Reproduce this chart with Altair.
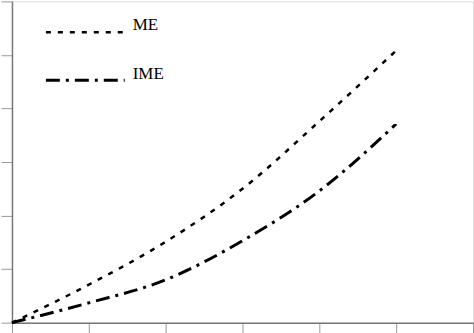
import altair as alt
import pandas as pd

x_vals = [0, 1, 2, 3, 4, 5]
me_vals = [0.0, 0.71, 1.51, 2.50, 3.76, 5.08]
ime_vals = [0.0, 0.37, 0.80, 1.53, 2.46, 3.71]
series_names = ["ME", "IME"]
tick_vals = [0, 1, 2, 3, 4, 5, 6]

df = pd.DataFrame({
    "x": x_vals * 2,
    "y": me_vals + ime_vals,
    "series": [series_names[0]] * len(x_vals) + [series_names[1]] * len(x_vals),
})

dash_scale = alt.Scale(domain=series_names, range=[[5, 7], [14, 6, 3, 6]])
width_scale = alt.Scale(domain=series_names, range=[2.5, 3])

x_enc = alt.X("x:Q", scale=alt.Scale(domain=[0, 6], nice=False),
              axis=alt.Axis(values=tick_vals, labels=False, title=None, grid=False,
                            tickSize=11, domainColor="#777", tickColor="#999",
                            domainWidth=1.5, tickWidth=1))
y_enc = alt.Y("y:Q", scale=alt.Scale(domain=[0, 6], nice=False),
              axis=alt.Axis(values=tick_vals, labels=False, title=None, grid=False,
                            tickSize=11, domainColor="#777", tickColor="#999",
                            domainWidth=1.5, tickWidth=1))

lines = alt.Chart(df).mark_line(color="black", interpolate="monotone").encode(
    x=x_enc,
    y=y_enc,
    strokeDash=alt.StrokeDash("series:N", scale=dash_scale, legend=None),
    strokeWidth=alt.StrokeWidth("series:N", scale=width_scale, legend=None),
    detail="series:N",
)

leg_df = pd.DataFrame({"series": series_names})

def legend_item(name, ly, ty, x2):
    sub = alt.Chart(leg_df).transform_filter(alt.datum.series == name)
    rule = sub.mark_rule(color="black").encode(
        x=alt.value(34), x2=alt.value(x2), y=alt.value(ly),
        strokeDash=alt.StrokeDash("series:N", scale=dash_scale, legend=None),
        strokeWidth=alt.StrokeWidth("series:N", scale=width_scale, legend=None),
    )
    txt = sub.mark_text(font="Liberation Serif", fontSize=17, align="left",
                        baseline="alphabetic", color="black").encode(
        x=alt.value(121), y=alt.value(ty), text="series:N")
    return rule + txt

chart = alt.layer(
    lines,
    legend_item("ME", 31, 29, 111),
    legend_item("IME", 79, 78, 113),
).properties(
    width=462, height=322, padding=0,
).configure_view(stroke="#ddd", strokeWidth=2).configure(background="white")

chart.save("out.html", embed_options={"renderer": "svg", "actions": False})
